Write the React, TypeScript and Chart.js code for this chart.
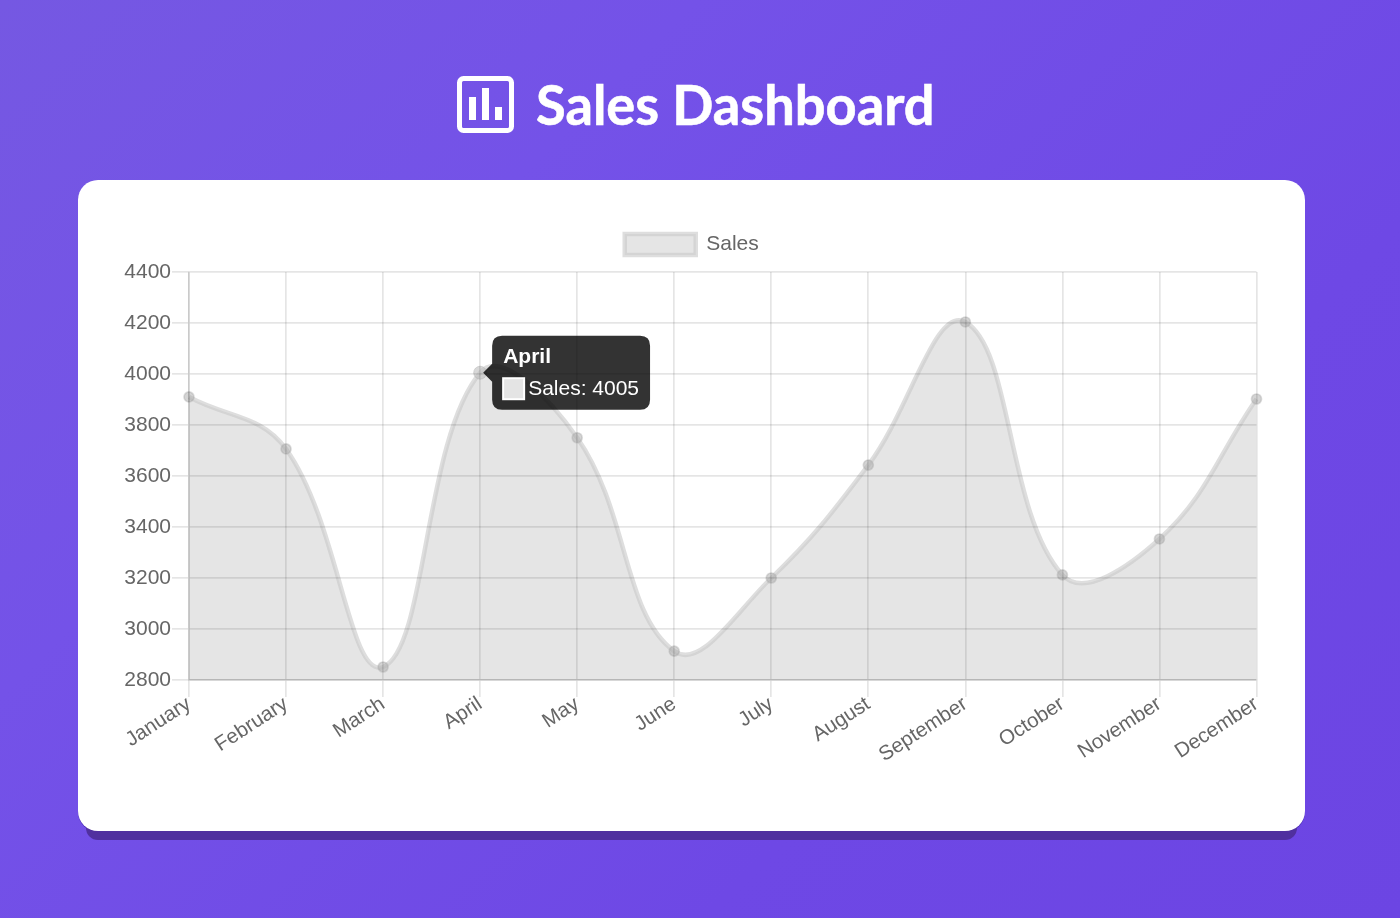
import React, { useEffect, useRef } from "react";
import { Chart, registerables } from "chart.js";

Chart.register(...registerables);

const months = ["January", "February", "March", "April", "May", "June", "July", "August", "September", "October", "November", "December"];
const sales = [3910, 3706, 2851, 4005, 3750, 2913, 3200, 3643, 4204, 3212, 3353, 3902];
const seriesName = "Sales";
const titleText = "Sales Dashboard";
const yMin = 2800;
const yMax = 4400;
const yStep = 200;
const activeIndex = 3;

const FONT = '"Liberation Sans", Arial, sans-serif';

const legendGap = {
  id: "legendGap",
  beforeInit(chart: any) {
    const fit = chart.legend.fit;
    chart.legend.fit = function () {
      fit.call(this);
      this.height += 7;
    };
  },
  afterLayout(chart: any) {
    chart.legend.left += 4;
  },
};

export default function App() {
  const ref = useRef<HTMLCanvasElement | null>(null);
  useEffect(() => {
    document.body.style.margin = "0";
    const chart = new Chart(ref.current as HTMLCanvasElement, {
      type: "line",
      plugins: [legendGap],
      data: {
        labels: months,
        datasets: [
          {
            label: seriesName,
            data: sales,
            fill: true,
            tension: 0.4,
            backgroundColor: "rgba(220,220,220,0.75)",
            borderColor: "rgba(200,200,200,0.6)",
            borderWidth: 4.5,
            pointRadius: 5,
            pointBorderWidth: 1.7,
            pointBackgroundColor: "rgba(170,170,170,0.5)",
            pointBorderColor: "rgba(170,170,170,0.4)",
            pointHoverRadius: 6.5,
            pointHoverBackgroundColor: "rgba(190,190,190,0.6)",
            pointHoverBorderColor: "rgba(170,170,170,0.4)",
          },
        ],
      },
      options: {
        animation: false,
        responsive: false,
        events: [],
        layout: { padding: { top: 0, right: 23.5, bottom: 0, left: 23 } },
        plugins: {
          legend: {
            display: true,
            position: "top",
            labels: { boxWidth: 71, boxHeight: 21, padding: 18, color: "#666", font: { family: FONT, size: 21 } },
          },
          tooltip: {
            enabled: true,
            backgroundColor: "rgba(0,0,0,0.8)",
            titleColor: "#fff",
            bodyColor: "#fff",
            titleFont: { family: FONT, size: 21, weight: "bold" },
            bodyFont: { family: FONT, size: 21 },
            padding: { left: 11, right: 11, top: 8.4, bottom: 8.4 },
            cornerRadius: 10,
            caretSize: 9,
            caretPadding: 3,
            titleMarginBottom: 6.8,
            boxWidth: 21,
            boxHeight: 21,
            boxPadding: 2,
            xAlign: "left",
            yAlign: "center",
            callbacks: {
              label: (c: any) => `${c.dataset.label}: ${c.raw}`,
              labelColor: () => ({ borderColor: "#fff", backgroundColor: "#e4e4e4", borderWidth: 2 }),
            },
          },
        },
        scales: {
          x: {
            afterFit: (s: any) => { s.height = 120; },
            grid: { color: "rgba(0,0,0,0.1)", lineWidth: 1.7, tickLength: 17, z: 1 },
            border: { display: true, color: "rgba(0,0,0,0.12)", width: 1.7, z: 1 },
            ticks: { color: "#666", font: { family: FONT, size: 20.5 }, maxRotation: 33, minRotation: 33, padding: -5, autoSkip: false },
          },
          y: {
            min: yMin,
            max: yMax,
            afterFit: (s: any) => { s.width = 66; },
            grid: { color: "rgba(0,0,0,0.1)", lineWidth: 1.7, tickLength: 17, z: 1 },
            border: { display: true, color: "rgba(0,0,0,0.12)", width: 1.7, z: 1 },
            ticks: { stepSize: yStep, color: "#666", font: { family: FONT, size: 21 }, padding: 1, format: { useGrouping: false } },
          },
        },
      },
    } as any);
    const el = { datasetIndex: 0, index: activeIndex };
    chart.setActiveElements([el]);
    chart.tooltip?.setActiveElements([el], { x: 0, y: 0 });
    chart.update();
    return () => chart.destroy();
  }, []);

  return (
    <div style={{ position: "relative", width: 1400, height: 918, overflow: "hidden", background: "linear-gradient(135deg, #7558e2 0%, #7452e8 30%, #6e48e5 70%, #6c45e3 100%)" }}>
      <svg width={60} height={60} viewBox="0 0 60 60" style={{ position: "absolute", left: 456, top: 75 }}>
        <rect x={3.5} y={3.5} width={52} height={52} rx={4} fill="none" stroke="#fff" strokeWidth={5} />
        <rect x={13} y={22} width={7} height={23} fill="#fff" />
        <rect x={26} y={13} width={7} height={32} fill="#fff" />
        <rect x={39} y={32} width={7} height={13} fill="#fff" />
      </svg>
      <div style={{ position: "absolute", left: 536, top: 68, color: "#fff", fontFamily: "Lato, sans-serif", fontWeight: 700, fontSize: 56, lineHeight: "72px", whiteSpace: "nowrap", transform: "scaleX(0.968)", transformOrigin: "left center", WebkitTextStroke: "0.6px #fff" }}>
        {titleText}
      </div>
      <div style={{ position: "absolute", left: 78, top: 180, width: 1227, height: 651, background: "#fff", borderRadius: 20, boxShadow: "0 17px 0 -8px #50309f, 0 1px 0 0 #4a2db5" }} />
      <canvas ref={ref} width={1180} height={584} style={{ position: "absolute", left: 100, top: 216, width: 1180, height: 584 }} />
    </div>
  );
}
